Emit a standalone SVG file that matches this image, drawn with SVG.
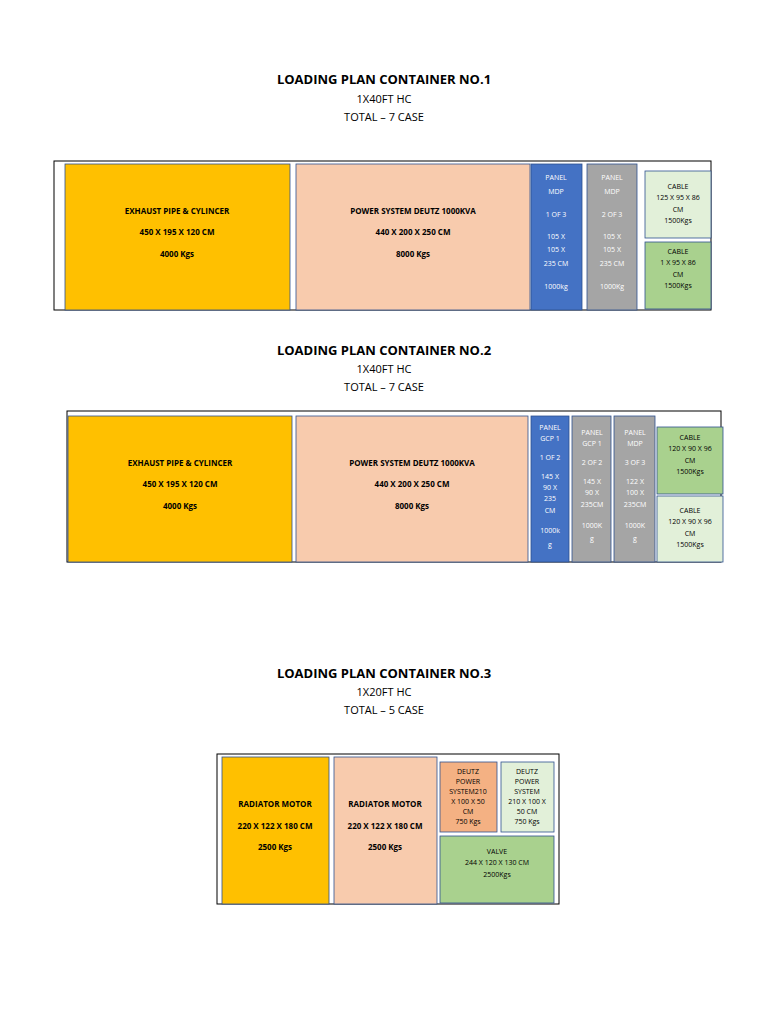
<svg xmlns="http://www.w3.org/2000/svg" width="768" height="1024" viewBox="0 0 768 1024">
<style>
text{font-family:"Open Sans","Liberation Sans",sans-serif;text-anchor:middle;fill:#000}
.h{font-size:13px;font-weight:bold}
.s{font-size:11px}
.b{font-size:8px;font-weight:bold}
.t{font-size:7px}
.w{fill:#fff}
.frame{fill:#fff;stroke:#000;stroke-width:1}
.or{fill:#ffc000;stroke:#2f528f;stroke-width:0.8}
.pe{fill:#f8cbad;stroke:#2f528f;stroke-width:0.8}
.bl{fill:#4472c4;stroke:#2f528f;stroke-width:0.8}
.gr{fill:#a5a5a5;stroke:#2f528f;stroke-width:0.8}
.lg{fill:#e2f0d9;stroke:#2f528f;stroke-width:0.8}
.dg{fill:#a9d18e;stroke:#2f528f;stroke-width:0.8}
.do{fill:#f4b183;stroke:#2f528f;stroke-width:0.8}
</style>
<rect width="768" height="1024" fill="#fff"/>
<text class="h" x="384" y="84">LOADING PLAN CONTAINER NO.1</text>
<text class="s" x="384" y="103">1X40FT HC</text>
<text class="s" x="384" y="121">TOTAL – 7 CASE</text>
<rect class="frame" x="54" y="161" width="657" height="149"/>
<g id="c1-exhaust"><rect class="or" x="65" y="164" width="225" height="146"/>
<text class="b" x="177" y="214">EXHAUST PIPE &amp; CYLINCER</text><text class="b" x="177" y="235">450 X 195 X 120 CM</text><text class="b" x="177" y="257">4000 Kgs</text></g>
<g id="c1-power"><rect class="pe" x="296" y="164" width="234" height="146"/>
<text class="b" x="413" y="214">POWER SYSTEM DEUTZ 1000KVA</text><text class="b" x="413" y="235">440 X 200 X 250 CM</text><text class="b" x="413" y="257">8000 Kgs</text></g>
<g id="c1-panel1"><rect class="bl" x="531" y="164" width="51" height="146"/>
<text class="t w" x="556" y="180">PANEL</text><text class="t w" x="556" y="194">MDP</text><text class="t w" x="556" y="217">1 OF 3</text><text class="t w" x="556" y="239">105 X</text><text class="t w" x="556" y="252">105 X</text><text class="t w" x="556" y="266">235 CM</text><text class="t w" x="556" y="289">1000kg</text></g>
<g id="c1-panel2"><rect class="gr" x="587" y="164" width="50" height="146"/>
<text class="t w" x="612" y="180">PANEL</text><text class="t w" x="612" y="194">MDP</text><text class="t w" x="612" y="217">2 OF 3</text><text class="t w" x="612" y="239">105 X</text><text class="t w" x="612" y="252">105 X</text><text class="t w" x="612" y="266">235 CM</text><text class="t w" x="612" y="289">1000Kg</text></g>
<g id="c1-cable1"><rect class="lg" x="645" y="171" width="66" height="67"/>
<text class="t" x="678" y="189">CABLE</text><text class="t" x="678" y="200">125 X 95 X 86</text><text class="t" x="678" y="212">CM</text><text class="t" x="678" y="223">1500Kgs</text></g>
<g id="c1-cable2"><rect class="dg" x="645" y="242" width="66" height="67"/>
<text class="t" x="678" y="254">CABLE</text><text class="t" x="678" y="265">1 X 95 X 86</text><text class="t" x="678" y="277">CM</text><text class="t" x="678" y="288">1500Kgs</text></g>

<text class="h" x="384" y="355">LOADING PLAN CONTAINER NO.2</text>
<text class="s" x="384" y="373">1X40FT HC</text>
<text class="s" x="384" y="391">TOTAL – 7 CASE</text>
<rect class="frame" x="67" y="411" width="654" height="151"/>
<g id="c2-exhaust"><rect class="or" x="68" y="416" width="224" height="146"/>
<text class="b" x="180" y="466">EXHAUST PIPE &amp; CYLINCER</text><text class="b" x="180" y="487">450 X 195 X 120 CM</text><text class="b" x="180" y="509">4000 Kgs</text></g>
<g id="c2-power"><rect class="pe" x="296" y="416" width="232" height="146"/>
<text class="b" x="412" y="466">POWER SYSTEM DEUTZ 1000KVA</text><text class="b" x="412" y="487">440 X 200 X 250 CM</text><text class="b" x="412" y="509">8000 Kgs</text></g>
<g id="c2-panel1"><rect class="bl" x="531" y="416" width="38" height="146"/>
<text class="t w" x="550" y="430">PANEL</text><text class="t w" x="550" y="441">GCP 1</text><text class="t w" x="550" y="460">1 OF 2</text><text class="t w" x="550" y="479">145 X</text><text class="t w" x="550" y="490">90 X</text><text class="t w" x="550" y="501">235</text><text class="t w" x="550" y="513">CM</text><text class="t w" x="550" y="533">1000k</text><text class="t w" x="550" y="547">g</text></g>
<g id="c2-panel2"><rect class="gr" x="572" y="416" width="39" height="146"/>
<text class="t w" x="592" y="435">PANEL</text><text class="t w" x="592" y="446">GCP 1</text><text class="t w" x="592" y="465">2 OF 2</text><text class="t w" x="592" y="484">145 X</text><text class="t w" x="592" y="495">90 X</text><text class="t w" x="592" y="507">235CM</text><text class="t w" x="592" y="528">1000K</text><text class="t w" x="592" y="541">g</text></g>
<g id="c2-panel3"><rect class="gr" x="614" y="416" width="41" height="146"/>
<text class="t w" x="635" y="435">PANEL</text><text class="t w" x="635" y="446">MDP</text><text class="t w" x="635" y="465">3 OF 3</text><text class="t w" x="635" y="484">122 X</text><text class="t w" x="635" y="495">100 X</text><text class="t w" x="635" y="507">235CM</text><text class="t w" x="635" y="528">1000K</text><text class="t w" x="635" y="541">g</text></g>
<g id="c2-cable1"><rect class="dg" x="657" y="427" width="66" height="67"/>
<text class="t" x="690" y="440">CABLE</text><text class="t" x="690" y="451">120 X 90 X 96</text><text class="t" x="690" y="463">CM</text><text class="t" x="690" y="474">1500Kgs</text></g>
<g id="c2-cable2"><rect class="lg" x="657" y="496" width="66" height="66"/>
<text class="t" x="690" y="513">CABLE</text><text class="t" x="690" y="524">120 X 90 X 96</text><text class="t" x="690" y="536">CM</text><text class="t" x="690" y="547">1500Kgs</text></g>

<text class="h" x="384" y="678">LOADING PLAN CONTAINER NO.3</text>
<text class="s" x="384" y="696">1X20FT HC</text>
<text class="s" x="384" y="714">TOTAL – 5 CASE</text>
<rect class="frame" x="217" y="754" width="342" height="150"/>
<g id="c3-rad1"><rect class="or" x="222" y="757" width="107" height="147"/>
<text class="b" x="275" y="807">RADIATOR MOTOR</text><text class="b" x="275" y="829">220 X 122 X 180 CM</text><text class="b" x="275" y="850">2500 Kgs</text></g>
<g id="c3-rad2"><rect class="pe" x="334" y="757" width="103" height="147"/>
<text class="b" x="385" y="807">RADIATOR MOTOR</text><text class="b" x="385" y="829">220 X 122 X 180 CM</text><text class="b" x="385" y="850">2500 Kgs</text></g>
<g id="c3-deutz1"><rect class="do" x="440" y="762" width="57" height="70"/>
<text class="t" x="468" y="774">DEUTZ</text><text class="t" x="468" y="784">POWER</text><text class="t" x="468" y="794">SYSTEM210</text><text class="t" x="468" y="804">X 100 X 50</text><text class="t" x="468" y="814">CM</text><text class="t" x="468" y="824">750 Kgs</text></g>
<g id="c3-deutz2"><rect class="lg" x="501" y="762" width="53" height="70"/>
<text class="t" x="527" y="774">DEUTZ</text><text class="t" x="527" y="784">POWER</text><text class="t" x="527" y="794">SYSTEM</text><text class="t" x="527" y="804">210 X 100 X</text><text class="t" x="527" y="814">50 CM</text><text class="t" x="527" y="824">750 Kgs</text></g>
<g id="c3-valve"><rect class="dg" x="440" y="836" width="114" height="67"/>
<text class="t" x="497" y="854">VALVE</text><text class="t" x="497" y="865">244 X 120 X 130 CM</text><text class="t" x="497" y="877">2500Kgs</text></g>
<g id="connectors"/>
</svg>
